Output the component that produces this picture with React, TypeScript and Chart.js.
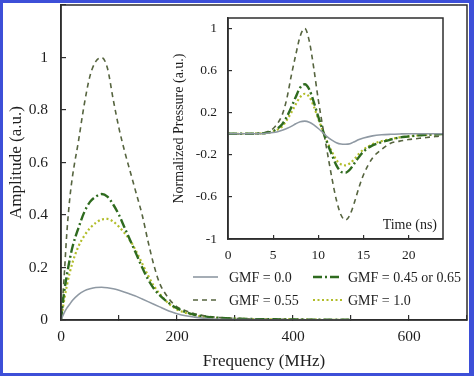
import React, { useEffect, useRef } from 'react';
import { Chart, registerables } from 'chart.js';

Chart.register(...registerables);

// ---------- Main chart data (Amplitude vs Frequency) ----------
const freqMHz = [0, 5, 10, 15, 20, 30, 40, 50, 60, 70, 80, 90, 100, 110, 120, 130, 140, 150, 160, 170, 180, 190, 200, 215, 230, 250, 275, 300, 350, 400, 450, 500];
const ampGMF00 = [0, 0.025, 0.045, 0.06, 0.075, 0.097, 0.111, 0.119, 0.124, 0.125, 0.123, 0.119, 0.113, 0.106, 0.098, 0.09, 0.08, 0.07, 0.06, 0.05, 0.04, 0.031, 0.024, 0.016, 0.011, 0.006, 0.003, 0.002, 0.001, 0, 0, 0];
const ampGMF045 = [0, 0.1, 0.17, 0.23, 0.28, 0.35, 0.41, 0.45, 0.47, 0.48, 0.47, 0.44, 0.4, 0.35, 0.3, 0.25, 0.2, 0.155, 0.12, 0.095, 0.075, 0.058, 0.045, 0.03, 0.02, 0.013, 0.008, 0.005, 0.003, 0.002, 0.001, 0.001];
const ampGMF055 = [0, 0.15, 0.33, 0.46, 0.55, 0.68, 0.82, 0.93, 0.985, 1.0, 0.96, 0.84, 0.73, 0.64, 0.56, 0.48, 0.4, 0.3, 0.21, 0.14, 0.1, 0.07, 0.05, 0.035, 0.024, 0.015, 0.009, 0.006, 0.003, 0.002, 0.001, 0.001];
const ampGMF10 = [0, 0.07, 0.13, 0.18, 0.22, 0.28, 0.32, 0.35, 0.37, 0.383, 0.385, 0.375, 0.355, 0.33, 0.3, 0.26, 0.215, 0.17, 0.13, 0.1, 0.075, 0.055, 0.04, 0.027, 0.018, 0.011, 0.007, 0.005, 0.003, 0.002, 0.001, 0.001];

const freqTicks = [0, 100, 200, 300, 400, 500, 600, 700];
const freqLabels = [0, 200, 400, 600];
const ampTicks = [0, 0.2, 0.4, 0.6, 0.8, 1, 1.2];
const ampLabels = [0, 0.2, 0.4, 0.6, 0.8, 1];

// ---------- Inset data (Normalized pressure vs Time) ----------
const timeNs = [0, 2, 4, 5, 5.5, 6, 6.5, 7, 7.5, 8, 8.5, 9, 9.5, 10, 10.5, 11, 11.5, 12, 12.5, 13, 13.5, 14, 14.5, 15, 16, 17, 18, 19, 20, 21, 22, 23, 23.8];
const prsGMF00 = [0, 0, 0.003, 0.012, 0.02, 0.033, 0.05, 0.07, 0.095, 0.115, 0.12, 0.11, 0.085, 0.05, 0.01, -0.03, -0.06, -0.085, -0.098, -0.1, -0.095, -0.075, -0.055, -0.04, -0.02, -0.01, -0.005, -0.002, 0, 0, 0, 0, 0];
const prsGMF045 = [0, 0, 0.005, 0.025, 0.05, 0.09, 0.16, 0.25, 0.35, 0.44, 0.47, 0.42, 0.3, 0.16, 0.03, -0.09, -0.2, -0.3, -0.36, -0.37, -0.34, -0.28, -0.22, -0.17, -0.11, -0.08, -0.055, -0.035, -0.025, -0.015, -0.01, -0.005, -0.003];
const prsGMF055 = [0, 0, 0.01, 0.05, 0.1, 0.18, 0.33, 0.55, 0.75, 0.93, 1.0, 0.88, 0.62, 0.32, 0.06, -0.18, -0.42, -0.63, -0.77, -0.82, -0.77, -0.65, -0.51, -0.39, -0.23, -0.15, -0.09, -0.07, -0.055, -0.045, -0.035, -0.025, -0.02];
const prsGMF10 = [0, 0, 0.005, 0.02, 0.04, 0.07, 0.13, 0.2, 0.28, 0.35, 0.38, 0.35, 0.26, 0.14, 0.03, -0.08, -0.17, -0.25, -0.29, -0.3, -0.28, -0.24, -0.19, -0.15, -0.1, -0.07, -0.05, -0.035, -0.025, -0.015, -0.01, -0.005, -0.003];

const timeTicks = [0, 5, 10, 15, 20];
const prsTicks = [-1, -0.6, -0.2, 0.2, 0.6, 1];

const seriesLabels = ['GMF = 0.0', 'GMF = 0.45 or 0.65', 'GMF = 0.55', 'GMF = 1.0'];
const seriesStyles = [
  { color: '#8f99a3', dash: [] as number[], width: 1.6 },
  { color: '#2f6b1f', dash: [9, 3, 2, 3], width: 2.4 },
  { color: '#56643f', dash: [5, 4], width: 1.6 },
  { color: '#b2bd2a', dash: [2, 2.5], width: 2.2 },
];

const FONT = "'Liberation Serif', 'Times New Roman', serif";
const TEXT = '#1e1e1e';
const AXIS = '#2e2e2e';

const toPoints = (xs: number[], ys: number[]) => xs.map((x, i) => ({ x, y: ys[i] }));
const fmt = (v: number) => String(Math.round(v * 10) / 10);

const makeDatasets = (xs: number[], series: number[][]) =>
  series.map((ys, i) => ({
    label: seriesLabels[i],
    data: toPoints(xs, ys),
    borderColor: seriesStyles[i].color,
    borderDash: seriesStyles[i].dash,
    borderWidth: seriesStyles[i].width,
    pointRadius: 0,
    fill: false,
    cubicInterpolationMode: 'monotone' as const,
  }));

const boxPlugin = {
  id: 'plotBox',
  afterDraw(chart: any) {
    const { ctx, chartArea: a } = chart;
    ctx.save();
    ctx.strokeStyle = AXIS;
    ctx.lineWidth = 1.5;
    ctx.strokeRect(a.left, a.top, a.right - a.left, a.bottom - a.top);
    ctx.restore();
  },
};

const legendPlugin = {
  id: 'gmfLegend',
  afterDraw(chart: any) {
    const { ctx, chartArea: a } = chart;
    const cols = [
      { x0: a.left + 132, x1: a.left + 157, tx: a.left + 168 },
      { x0: a.left + 252, x1: a.left + 281, tx: a.left + 287 },
    ];
    const rows = [a.top + 272, a.top + 295];
    const order = [0, 1, 2, 3];
    ctx.save();
    ctx.font = `14px ${FONT}`;
    ctx.textBaseline = 'middle';
    ctx.textAlign = 'left';
    order.forEach((di, k) => {
      const ds = chart.data.datasets[di];
      const c = cols[k % 2];
      const y = rows[Math.floor(k / 2)];
      ctx.strokeStyle = ds.borderColor;
      ctx.lineWidth = ds.borderWidth;
      ctx.setLineDash(ds.borderDash || []);
      ctx.beginPath();
      ctx.moveTo(c.x0, y);
      ctx.lineTo(c.x1, y);
      ctx.stroke();
      ctx.setLineDash([]);
      ctx.fillStyle = TEXT;
      ctx.fillText(ds.label, c.tx, y + 1);
    });
    ctx.restore();
  },
};

const timeLabelPlugin = {
  id: 'timeLabel',
  afterDraw(chart: any) {
    const { ctx, chartArea: a } = chart;
    ctx.save();
    ctx.font = `14px ${FONT}`;
    ctx.fillStyle = TEXT;
    ctx.textAlign = 'right';
    ctx.textBaseline = 'middle';
    ctx.fillText('Time (ns)', a.right - 6, a.bottom - 14);
    ctx.restore();
  },
};

const gridOpts = (len: number) => ({
  display: true,
  drawOnChartArea: false,
  drawTicks: true,
  tickLength: len,
  color: AXIS,
  lineWidth: 1.2,
});
const borderOpts = { display: true, color: AXIS, width: 1.5 };

const fixX = (h: number) => (s: any) => {
  s.height = h;
  s.paddingLeft = 0;
  s.paddingRight = 0;
  s.paddingTop = 0;
  s.paddingBottom = 0;
};
const fixY = (w: number) => (s: any) => {
  s.width = w;
  s.paddingLeft = 0;
  s.paddingRight = 0;
  s.paddingTop = 0;
  s.paddingBottom = 0;
};

export default function App() {
  const mainRef = useRef<HTMLCanvasElement>(null);
  const insetRef = useRef<HTMLCanvasElement>(null);

  useEffect(() => {
    if (!mainRef.current || !insetRef.current) return;

    const main = new Chart(mainRef.current, {
      type: 'line',
      data: { datasets: makeDatasets(freqMHz, [ampGMF00, ampGMF045, ampGMF055, ampGMF10]) as any },
      options: {
        responsive: false,
        animation: false,
        events: [],
        layout: { autoPadding: false, padding: { top: 5, right: 7, left: 0, bottom: 0 } } as any,
        plugins: { legend: { display: false }, tooltip: { enabled: false } },
        scales: {
          x: {
            type: 'linear',
            min: 0,
            max: 700,
            afterBuildTicks: (s: any) => { s.ticks = freqTicks.map((v) => ({ value: v })); },
            afterFit: fixX(56),
            ticks: {
              autoSkip: false,
              maxRotation: 0,
              padding: 13,
              color: TEXT,
              font: { family: FONT, size: 15.5 },
              callback: (v: any) => (freqLabels.includes(Number(v)) ? String(v) : ''),
            },
            grid: gridOpts(-5) as any,
            border: borderOpts,
            title: { display: true, text: 'Frequency (MHz)', color: TEXT, font: { family: FONT, size: 17 }, padding: { top: 0, bottom: 4 } },
          },
          y: {
            type: 'linear',
            min: 0,
            max: 1.2,
            afterBuildTicks: (s: any) => { s.ticks = ampTicks.map((v) => ({ value: v })); },
            afterFit: fixY(61),
            ticks: {
              autoSkip: false,
              padding: 18,
              color: TEXT,
              font: { family: FONT, size: 15.5 },
              callback: (v: any) => (ampLabels.some((l) => Math.abs(l - Number(v)) < 1e-6) ? fmt(Number(v)) : ''),
            },
            grid: gridOpts(-5) as any,
            border: borderOpts,
            title: { display: true, text: 'Amplitude (a.u.)', color: TEXT, font: { family: FONT, size: 17 }, padding: { top: 6, bottom: 0 } },
          },
        },
      },
      plugins: [boxPlugin, legendPlugin],
    });

    const inset = new Chart(insetRef.current, {
      type: 'line',
      data: { datasets: makeDatasets(timeNs, [prsGMF00, prsGMF045, prsGMF055, prsGMF10]) as any },
      options: {
        responsive: false,
        animation: false,
        events: [],
        layout: { autoPadding: false, padding: { top: 8, right: 7, left: 0, bottom: 0 } } as any,
        plugins: { legend: { display: false }, tooltip: { enabled: false } },
        scales: {
          x: {
            type: 'linear',
            min: 0,
            max: 23.8,
            afterBuildTicks: (s: any) => { s.ticks = timeTicks.map((v) => ({ value: v })); },
            afterFit: fixX(23),
            ticks: {
              autoSkip: false,
              maxRotation: 0,
              padding: 12,
              color: TEXT,
              font: { family: FONT, size: 13.5 },
              callback: (v: any) => String(v),
            },
            grid: gridOpts(-4) as any,
            border: borderOpts,
          },
          y: {
            type: 'linear',
            min: -1,
            max: 1.1,
            afterBuildTicks: (s: any) => { s.ticks = prsTicks.map((v) => ({ value: v })); },
            afterFit: fixY(63),
            ticks: {
              autoSkip: false,
              padding: 15,
              color: TEXT,
              font: { family: FONT, size: 13.5 },
              callback: (v: any) => fmt(Number(v)),
            },
            grid: gridOpts(-4) as any,
            border: borderOpts,
            title: { display: true, text: 'Normalized Pressure (a.u.)', color: TEXT, font: { family: FONT, size: 14 }, padding: { top: 5.5, bottom: 0 } },
          },
        },
      },
      plugins: [boxPlugin, timeLabelPlugin],
    });

    return () => {
      main.destroy();
      inset.destroy();
    };
  }, []);

  return (
    <div style={{ position: 'fixed', left: 0, top: 0, width: 474, height: 376, background: '#ffffff', overflow: 'hidden' }}>
      <canvas ref={mainRef} width={474} height={376} style={{ position: 'absolute', left: 0, top: 0, width: 474, height: 376 }} />
      <canvas ref={insetRef} width={285} height={252} style={{ position: 'absolute', left: 165, top: 10, width: 285, height: 252 }} />
      <div
        style={{
          position: 'absolute',
          left: 0,
          top: 0,
          width: 474,
          height: 376,
          boxSizing: 'border-box',
          borderStyle: 'solid',
          borderColor: '#3d4fd8',
          borderWidth: '3px 5px 3px 3px',
          pointerEvents: 'none',
        }}
      />
    </div>
  );
}
